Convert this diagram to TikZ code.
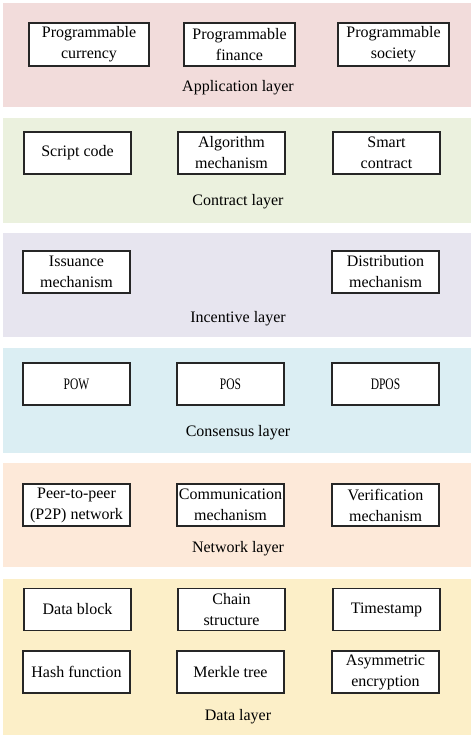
\documentclass[tikz,border=0pt]{standalone}
\usepackage{fontspec}
\setmainfont{Liberation Serif}
\newfontfamily\narrowfont{Liberation Serif}[FakeStretch=0.72]
\usepackage{tikz}
\usetikzlibrary{calc}
\definecolor{appcol}{HTML}{F2DCDB}
\definecolor{concol}{HTML}{EBF1DE}
\definecolor{inccol}{HTML}{E7E5EF}
\definecolor{cnscol}{HTML}{DBEEF3}
\definecolor{netcol}{HTML}{FDE9D9}
\definecolor{datcol}{HTML}{FCEFC8}

\begin{document}
\begin{tikzpicture}[x=1pt,y=-1pt]
            % Define styles
            \tikzstyle{item} = [draw=black!85,line width=1.2pt,fill=white,shape=rectangle,inner sep=0pt,minimum width=107pt,minimum height=42pt,align=center,font=\fontsize{16}{21}\selectfont]
            \tikzstyle{wideitem} = [item,minimum width=111pt,minimum height=43pt]
            \tikzstyle{layername} = [font=\fontsize{16}{20}\selectfont]
            \useasboundingbox (0,0) rectangle (474,737);
            % Layer bands
            	\fill [appcol] (3,3) rectangle (471,107);
            	\fill [concol] (3,118) rectangle (471,223);
            	\fill [inccol] (3,233) rectangle (471,337);
            	\fill [cnscol] (3,348) rectangle (471,453);
            	\fill [netcol] (3,463) rectangle (471,567);
            	\fill [datcol] (3,579) rectangle (471,735);
            % Application layer
            	\node (app1) at (89,44.5) [wideitem,minimum width=120pt]{Programmable\\currency};
            	\node (app2) at (239.5,44.5) [wideitem]{Programmable\\finance};
            	\node (app3) at (393.5,44.5) [wideitem]{Programmable\\society};
            	\node (appL) at (238,88) [layername]{Application layer};
            % Contract layer
            	\node (con1) at (77.5,153) [item]{Script code};
            	\node (con2) at (231.5,153) [item]{Algorithm\\mechanism};
            	\node (con3) at (386.5,153) [item]{Smart\\contract};
            	\node (conL) at (238,202) [layername]{Contract layer};
            % Incentive layer
            	\node (inc1) at (76.5,272) [item]{Issuance\\mechanism};
            	\node (inc2) at (385.5,272) [item]{Distribution\\mechanism};
            	\node (incL) at (238,319) [layername]{Incentive layer};
            % Consensus layer
            	\node (cns1) at (76.5,384) [item,font=\narrowfont\fontsize{16}{21}\selectfont]{POW};
            	\node (cns2) at (230.5,384) [item,font=\narrowfont\fontsize{16}{21}\selectfont]{POS};
            	\node (cns3) at (385.5,384) [item,font=\narrowfont\fontsize{16}{21}\selectfont]{DPOS};
            	\node (cnsL) at (238,433) [layername]{Consensus layer};
            % Network layer
            	\node (net1) at (76.5,505) [item]{Peer-to-peer\\(P2P) network};
            	\node (net2) at (230.5,505) [item]{Communication\\mechanism};
            	\node (net3) at (385.5,505) [item]{Verification\\mechanism};
            	\node (netL) at (238,549) [layername]{Network layer};
            % Data layer
                % First row
            	\node (dat1) at (77.5,609.5) [item]{Data block};
            	\node (dat2) at (231.5,609.5) [item]{Chain\\structure};
            	\node (dat3) at (386.5,609.5) [item]{Timestamp};
                % Second row
            	\node (dat4) at (76.5,672) [item]{Hash function};
            	\node (dat5) at (230.5,672) [item]{Merkle tree};
            	\node (dat6) at (385.5,672) [item]{Asymmetric\\encryption};
            	\node (datL) at (238,717) [layername]{Data layer};
\end{tikzpicture}
\end{document}
